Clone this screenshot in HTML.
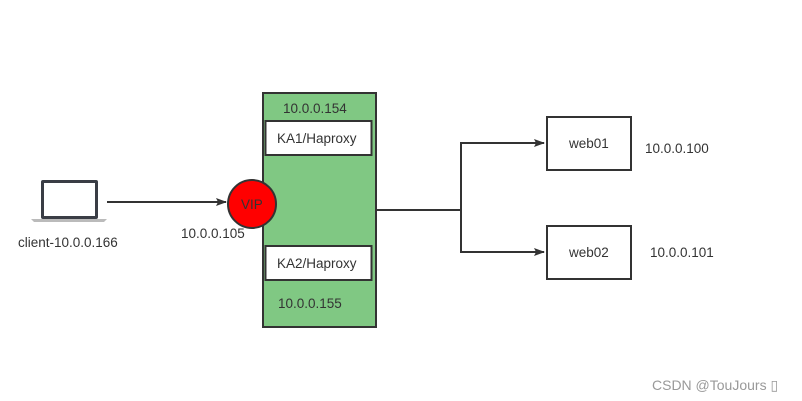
<!DOCTYPE html>
<html><head><meta charset="utf-8"><style>body{margin:0;background:#fff}svg{display:block}text{font-family:"Liberation Sans",sans-serif;fill:#333;font-size:13.5px}</style></head><body>
<svg width="802" height="401" viewBox="0 0 802 401">
<defs><marker id="a" markerWidth="11" markerHeight="8" refX="10" refY="4" orient="auto" markerUnits="userSpaceOnUse"><path d="M0,0 L11,4 L0,8 L2,4 z" fill="#333"/></marker></defs>
<rect x="41" y="180" width="57" height="39" rx="2" fill="#3a3d45"/>
<rect x="44" y="183" width="51" height="33" fill="#fff"/>
<path d="M31,219 L107,219 L104,222 L34,222 z" fill="#bbb"/>
<text x="18" y="247">client-10.0.0.166</text>
<line x1="107" y1="202" x2="226" y2="202" stroke="#333" stroke-width="2" marker-end="url(#a)"/>
<rect x="263" y="93" width="113" height="234" fill="#80c883" stroke="#333" stroke-width="2"/>
<rect x="265.5" y="121" width="106" height="34" fill="#fff" stroke="#333" stroke-width="2"/>
<rect x="265.5" y="246" width="106" height="34" fill="#fff" stroke="#333" stroke-width="2"/>
<text x="283" y="113">10.0.0.154</text>
<text x="277" y="143">KA1/Haproxy</text>
<text x="277" y="268">KA2/Haproxy</text>
<text x="278" y="308">10.0.0.155</text>
<circle cx="252" cy="204" r="24" fill="#ff0000" stroke="#333" stroke-width="2"/>
<text x="241" y="209">VIP</text>
<text x="181" y="238">10.0.0.105</text>
<polyline points="376,210 461,210 461,143 544,143" fill="none" stroke="#333" stroke-width="2" marker-end="url(#a)"/>
<polyline points="461,210 461,252 544,252" fill="none" stroke="#333" stroke-width="2" marker-end="url(#a)"/>
<rect x="547" y="117" width="84" height="53" fill="#fff" stroke="#333" stroke-width="2"/>
<rect x="547" y="226" width="84" height="53" fill="#fff" stroke="#333" stroke-width="2"/>
<text x="569" y="148">web01</text>
<text x="569" y="257">web02</text>
<text x="645" y="153">10.0.0.100</text>
<text x="650" y="257">10.0.0.101</text>
<text x="652" y="390" style="fill:#999;font-size:14px">CSDN @TouJours ▯</text>
</svg></body></html>
